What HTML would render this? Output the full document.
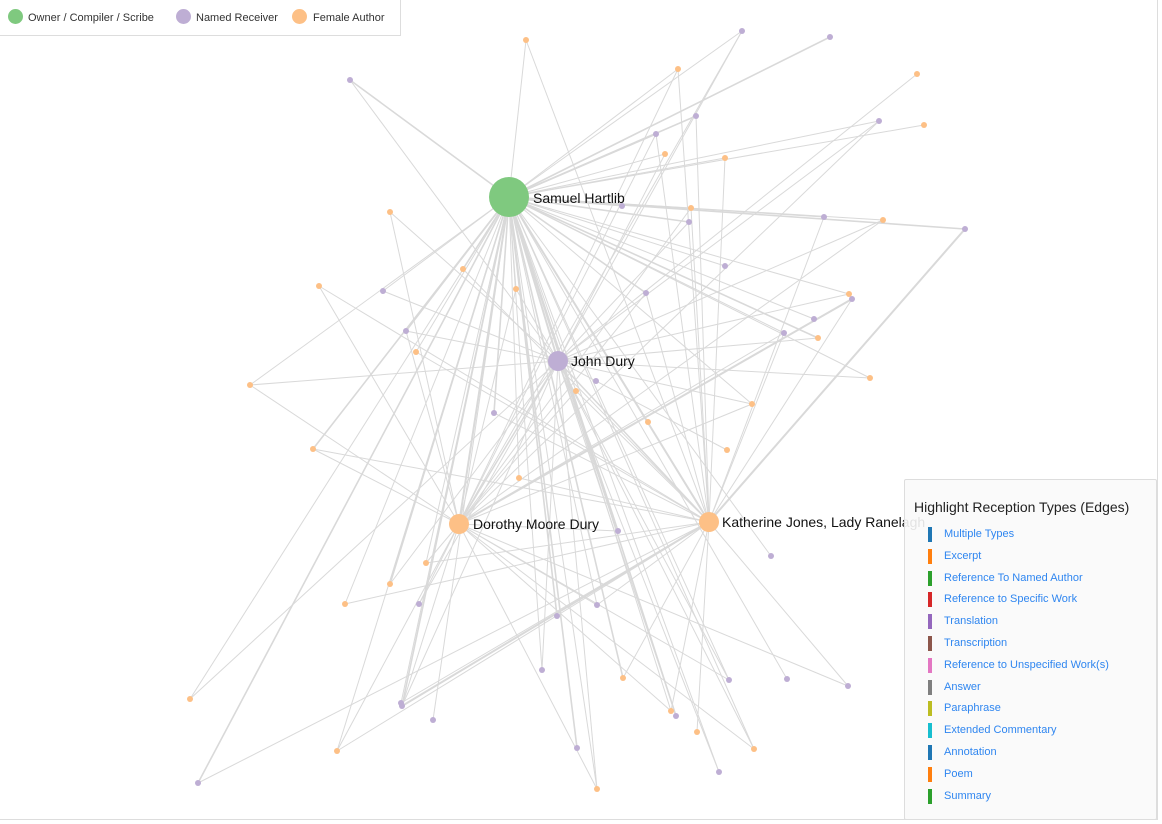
<!DOCTYPE html>
<html><head><meta charset="utf-8"><style>
body{margin:0;width:1162px;height:824px;background:#fff;font-family:"Liberation Sans",sans-serif;overflow:hidden;position:relative}
#frame{position:absolute;left:-1px;top:-1px;width:1157px;height:819px;border:1px solid #ddd}
#leg{position:absolute;left:-1px;top:-1px;width:400px;height:35px;border:1px solid #ddd;background:#fff;font-size:11px;color:#333}
#leg span{position:absolute;top:12px}
#leg i{position:absolute;top:9px;width:15px;height:15px;border-radius:50%}
#panel{position:absolute;left:904px;top:479px;width:251px;height:339px;background:rgba(250,250,250,0.9);border:1px solid #ddd;border-radius:2px}
#panel h3{margin:0;position:absolute;left:9px;top:19px;font-size:14px;font-weight:normal;color:#222}
.it{position:absolute;left:39px;font-size:11px;color:#2f86f0}
.it b{position:absolute;left:-16px;top:-1px;width:4px;height:15px}
</style></head><body>
<div id="frame"></div>
<svg id="g" width="1162" height="824" style="position:absolute;left:0;top:0"></svg>
<div id="leg">
<i style="left:8px;background:#7fc97f"></i><span style="left:28px">Owner / Compiler / Scribe</span>
<i style="left:176px;background:#beaed4"></i><span style="left:196px">Named Receiver</span>
<i style="left:292px;background:#fdc086"></i><span style="left:313px">Female Author</span>
</div>
<div id="panel"><h3>Highlight Reception Types (Edges)</h3>
<div id="items"></div></div>
<script>
var items=[["Multiple Types","#1f77b4"],["Excerpt","#ff7f0e"],["Reference To Named Author","#2ca02c"],["Reference to Specific Work","#d62728"],["Translation","#9467bd"],["Transcription","#8c564b"],["Reference to Unspecified Work(s)","#e377c2"],["Answer","#7f7f7f"],["Paraphrase","#bcbd22"],["Extended Commentary","#17becf"],["Annotation","#1f77b4"],["Poem","#ff7f0e"],["Summary","#2ca02c"]];
var h="";items.forEach(function(t,i){h+='<div class="it" style="top:'+(48+i*21.8)+'px"><b style="background:'+t[1]+'"></b>'+t[0]+'</div>'});
document.getElementById("items").innerHTML=h;
var O="#fdc086",P="#beaed4";
var hubs=[[509,197],[558,361],[459,524],[709,522]];
var n=[["p",350,80],["o",526,40],["p",742,31],["p",830,37],["o",678,69],["o",917,74],["p",696,116],["p",879,121],["o",924,125],["p",656,134],["o",665,154],["o",725,158],["o",390,212],["p",622,206],["o",691,208],["p",689,222],["p",824,217],["o",883,220],["p",965,229],["o",319,286],["p",383,291],["o",463,269],["o",516,289],["p",725,266],["p",646,293],["o",849,294],["p",852,299],["p",406,331],["p",814,319],["p",784,333],["o",818,338],["o",416,352],["o",250,385],["p",596,381],["o",576,391],["o",870,378],["p",494,413],["o",752,404],["o",648,422],["o",313,449],["o",727,450],["o",519,478],["p",618,531],["p",771,556],["o",426,563],["o",390,584],["o",345,604],["p",419,604],["p",557,616],["p",597,605],["p",542,670],["o",623,678],["p",729,680],["p",787,679],["p",848,686],["o",190,699],["p",401,703],["p",402,706],["p",433,720],["o",671,711],["p",676,716],["o",697,732],["o",754,749],["p",577,748],["o",337,751],["p",719,772],["p",198,783],["o",597,789]];
var s="";
function L(a,b,c,d,w){s+='<line x1="'+a+'" y1="'+b+'" x2="'+c+'" y2="'+d+'" stroke="#d9d9d9" stroke-width="'+(w||1)+'"/>'}
n.forEach(function(q,i){
 if(i%7!=5) L(509,197,q[1],q[2],(i%3==0)?1.6:1);
 for(var k=1;k<4;k++){ if((i*7+k*11)%5<2) L(hubs[k][0],hubs[k][1],q[1],q[2],1);}
});
L(509,197,558,361,2);L(509,197,459,524,2);L(509,197,709,522,2);L(558,361,459,524,1.5);L(558,361,709,522,1.5);L(459,524,852,299,2);L(709,522,965,229,2);L(402,706,709,522,2);
n.forEach(function(q){s+='<circle cx="'+q[1]+'" cy="'+q[2]+'" r="3" fill="'+(q[0]=="o"?O:P)+'"/>'});
s+='<circle cx="509" cy="197" r="20" fill="#7fc97f"/><circle cx="558" cy="361" r="10" fill="'+P+'"/><circle cx="459" cy="524" r="10" fill="'+O+'"/><circle cx="709" cy="522" r="10" fill="'+O+'"/>';
function T(x,y,t){s+='<text x="'+x+'" y="'+y+'" font-size="14" font-family="Liberation Sans,sans-serif" fill="#111">'+t+'</text>'}
T(533,203,"Samuel Hartlib");T(571,366,"John Dury");T(473,529,"Dorothy Moore Dury");T(722,527,"Katherine Jones, Lady Ranelagh");
document.getElementById("g").innerHTML=s;
</script>
</body></html>
